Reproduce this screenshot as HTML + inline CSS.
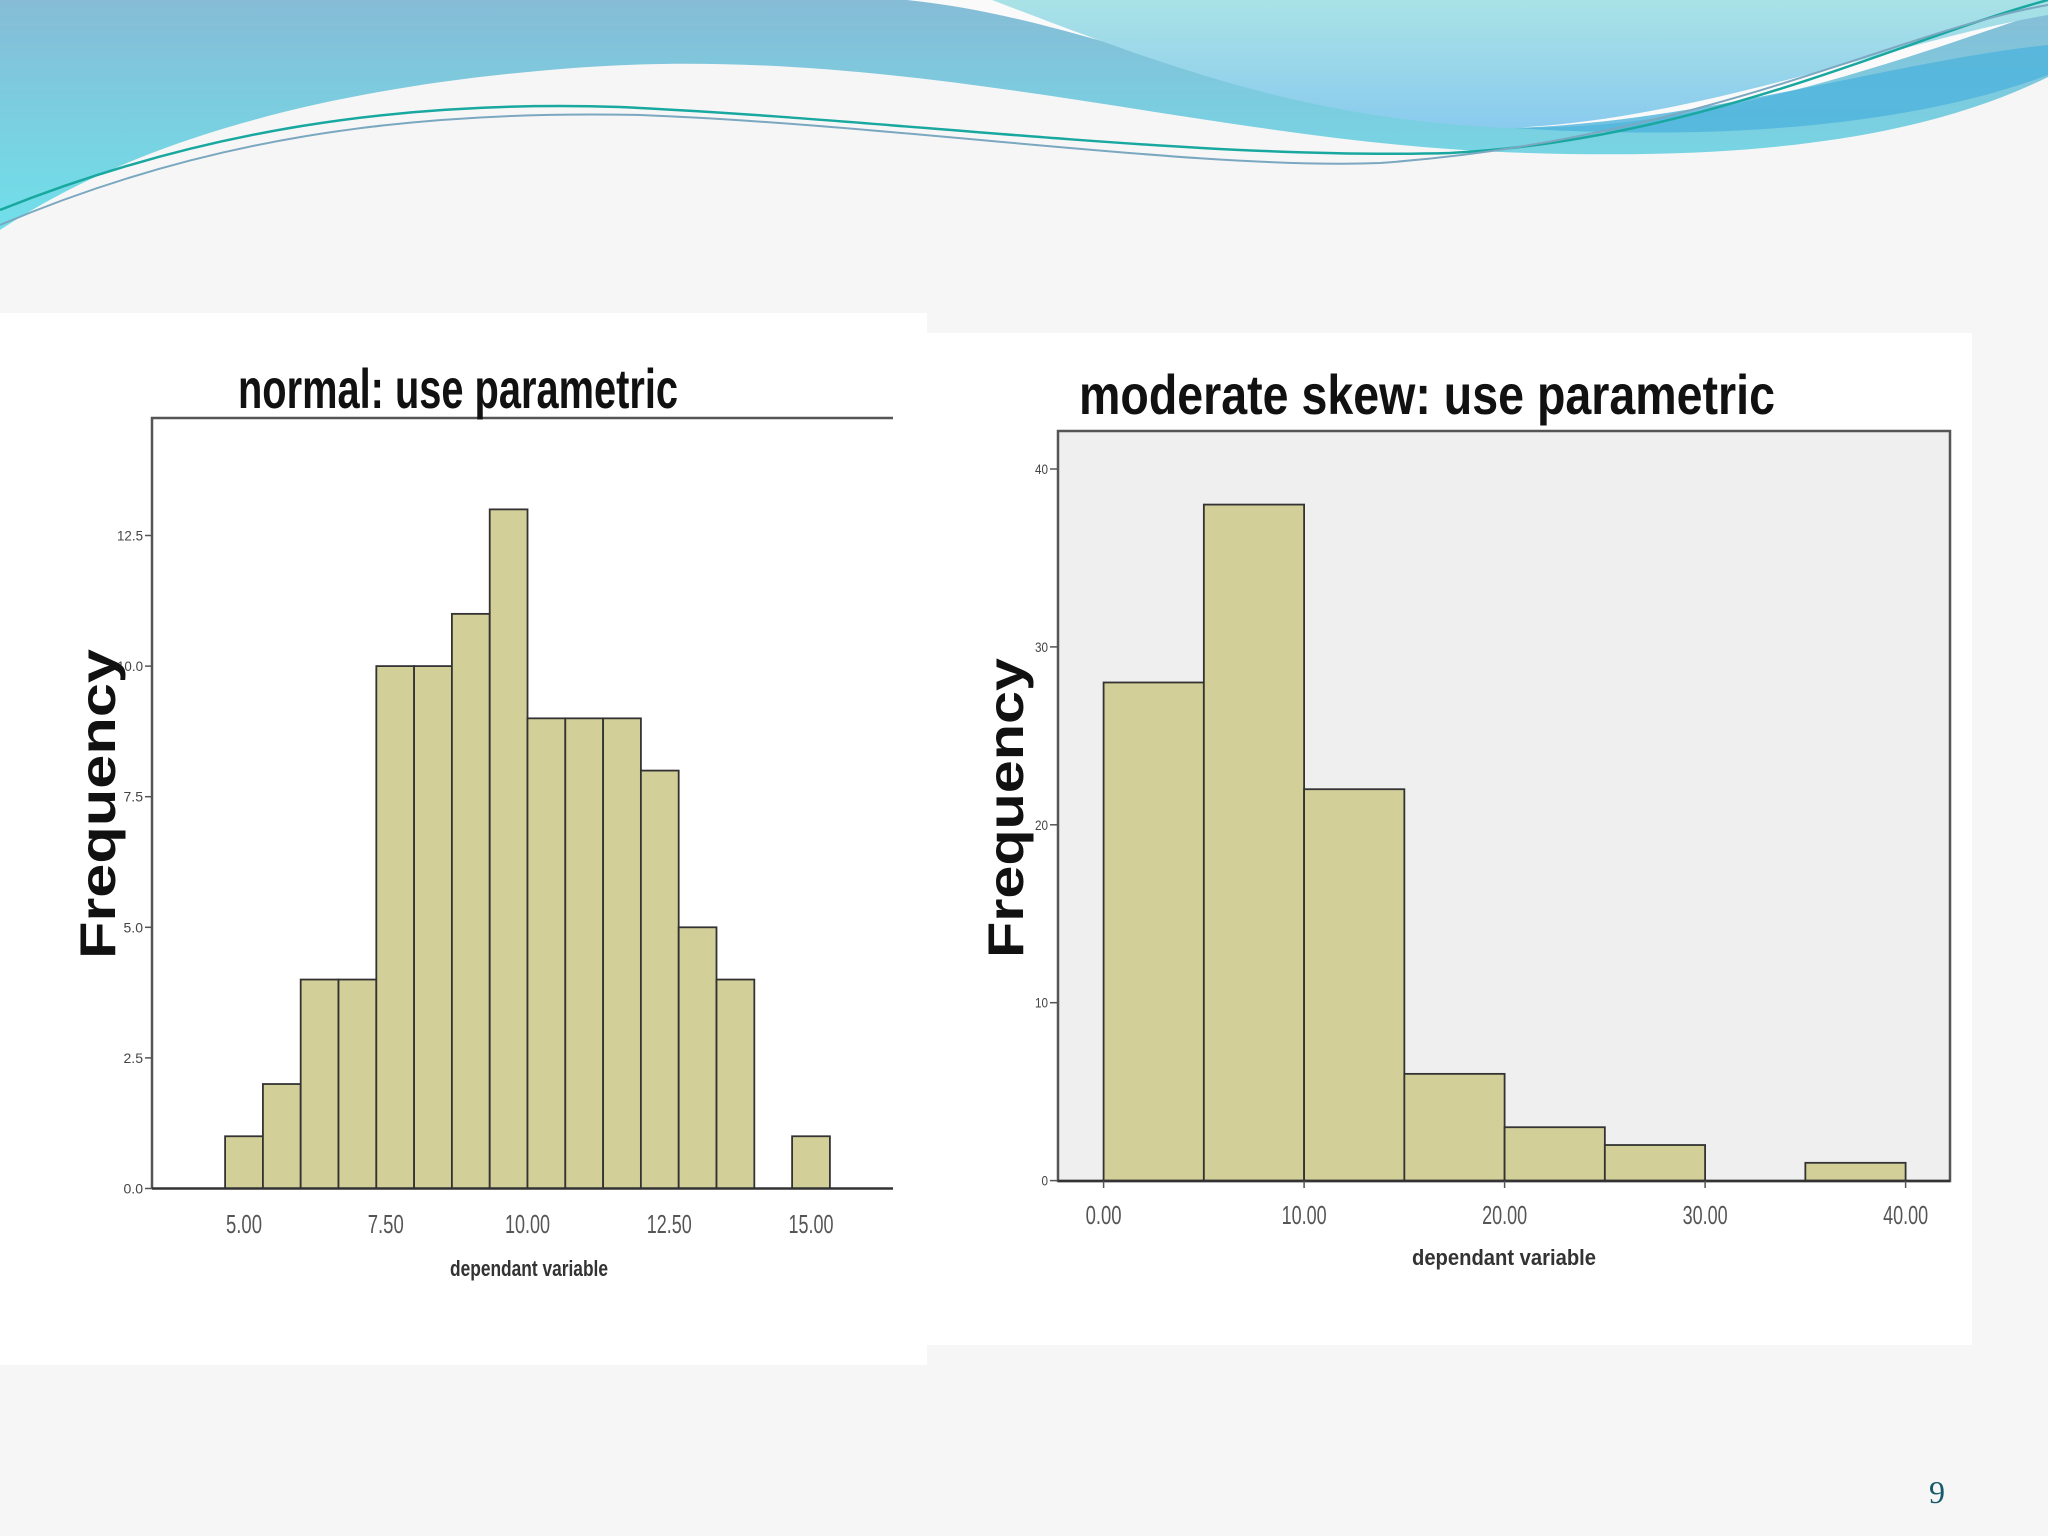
<!DOCTYPE html>
<html><head><meta charset="utf-8"><style>
html,body{margin:0;padding:0;}
body{width:2048px;height:1536px;overflow:hidden;background:#f6f6f6;font-family:"Liberation Sans",sans-serif;}
svg{display:block;}
</style></head><body>
<svg width="2048" height="1536" viewBox="0 0 2048 1536">
<defs>
<linearGradient id="bg1" x1="0" y1="0" x2="0" y2="1"><stop offset="0" stop-color="#86bcd6"/><stop offset="1" stop-color="#70e0ea"/></linearGradient>
<linearGradient id="bg2" x1="0" y1="0" x2="0" y2="1"><stop offset="0" stop-color="#a9e2e6"/><stop offset="1" stop-color="#8acbee"/></linearGradient>
</defs>
<g>
<path d="M0,0 L2048,0 L2048,77 C1900,150 1700,160 1501,152 C1200,140 900,40 561,69 C300,90 120,150 0,230 Z" fill="url(#bg1)"/>
<path d="M907,0 C1100,20 1250,110 1501,127 C1700,135 1900,60 2048,10 L2048,0 Z" fill="#fafafa"/>
<path d="M992,0 C1150,60 1300,120 1510,128 C1700,120 1900,40 2048,15 L2048,0 Z" fill="url(#bg2)"/>
<path d="M1515,128 C1700,122 1900,60 2048,45 L2048,75 C1900,130 1700,140 1515,128 Z" fill="#4fb3dc" opacity="0.8"/>
<path d="M0,210 C200,130 400,100 620,107 C900,120 1200,160 1450,153 C1700,140 1900,40 2048,0" fill="none" stroke="#18a8a0" stroke-width="2.5"/>
<path d="M0,225 C200,140 400,110 640,115 C900,125 1200,170 1380,163 C1700,140 1900,30 2048,5" fill="none" stroke="#7aa8c0" stroke-width="2"/>
</g>
<rect x="0" y="313" width="927" height="1052" fill="#ffffff"/>
<rect x="927" y="333" width="1045" height="1012" fill="#ffffff"/>
<g id="left"></g>
<g id="right"></g>
<text x="1937" y="1503" font-family="Liberation Serif,serif" font-size="32" fill="#175a6a" text-anchor="middle">9</text>
</svg>
<script>
const NS='http://www.w3.org/2000/svg';
// ---- left chart data ----
const leftBinCenters=[5.0,5.667,6.333,7.0,7.667,8.333,9.0,9.667,10.333,11.0,11.667,12.333,13.0,13.667,14.333,15.0];
const leftCounts=[1,2,4,4,10,10,11,13,9,9,9,8,5,4,0,1];
const leftYTicks=[0,2.5,5,7.5,10,12.5];
const leftYTickLabels=['0.0','2.5','5.0','7.5','10.0','12.5'];
const leftXTicks=[5,7.5,10,12.5,15];
const leftXTickLabels=['5.00','7.50','10.00','12.50','15.00'];
// ---- right chart data ----
const rightBinEdges=[0,5,10,15,20,25,30,35,40];
const rightCounts=[28,38,22,6,3,2,0,1];
const rightYTicks=[0,10,20,30,40];
const rightYTickLabels=['0','10','20','30','40'];
const rightXTicks=[0,10,20,30,40];
const rightXTickLabels=['0.00','10.00','20.00','30.00','40.00'];

function el(tag,attrs,parent){const e=document.createElementNS(NS,tag);for(const k in attrs)e.setAttribute(k,attrs[k]);parent.appendChild(e);return e;}
function txt(parent,x,y,s,size,opts){const t=el('text',Object.assign({x:x,y:y,'font-size':size,fill:'#333'},opts||{}),parent);t.textContent=s;return t;}

// left
(function(){
 const g=document.getElementById('left');
 const X=v=>244+(v-5)*56.7, Y=v=>1188.5-v*52.24;
 const binW=0.6667;
 el('path',{d:'M152,1188.5 L152,418 L893,418',fill:'none',stroke:'#555','stroke-width':2.5},g);
 leftCounts.forEach((c,i)=>{ if(c<=0)return;
  const x0=X(leftBinCenters[i]-binW/2),x1=X(leftBinCenters[i]+binW/2);
  const r=el('rect',{x:x0,y:Y(c),width:x1-x0,height:Y(0)-Y(c),fill:'#d3cf98',stroke:'#333','stroke-width':1.8},g);
  
  
 });
 el('line',{x1:152,y1:1188.5,x2:893,y2:1188.5,stroke:'#333','stroke-width':2.5},g);
 leftYTicks.forEach((v,i)=>{
  el('line',{x1:145,y1:Y(v),x2:152,y2:Y(v),stroke:'#555','stroke-width':1.5},g);
  const t=txt(g,143,Y(v)+5,leftYTickLabels[i],14,{'text-anchor':'end',fill:'#444',transform:'',textLength:leftYTickLabels[i].length*6.5,lengthAdjust:'spacingAndGlyphs'});
  
  
 });
 leftXTicks.forEach((v,i)=>{
  const t=txt(g,X(v),1233,leftXTickLabels[i],26,{'text-anchor':'middle',fill:'#555',textLength:leftXTickLabels[i].length*9,lengthAdjust:'spacingAndGlyphs'});
  
  
 });
 let t=txt(g,529,1276,'dependant variable',22,{'text-anchor':'middle','font-weight':'bold',fill:'#333',textLength:158,lengthAdjust:'spacingAndGlyphs'});
 
 
 t=txt(g,238,408,'normal: use parametric',56,{'font-weight':'bold',fill:'#111',textLength:440,lengthAdjust:'spacingAndGlyphs'});
 
 
 t=txt(g,0,0,'Frequency',50,{'font-weight':'bold',fill:'#111','text-anchor':'middle',transform:'translate(115,804) rotate(-90)',textLength:310,lengthAdjust:'spacingAndGlyphs'});
 
 
})();

// right
(function(){
 const g=document.getElementById('right');
 const X=v=>1103.6+v*20.05, Y=v=>1180.6-v*17.79;
 el('rect',{x:1058,y:431,width:892,height:750,fill:'#efefef',stroke:'#555','stroke-width':2.5},g);
 rightCounts.forEach((c,i)=>{ if(c<=0)return;
  const x0=X(rightBinEdges[i]),x1=X(rightBinEdges[i+1]);
  const r=el('rect',{x:x0,y:Y(c),width:x1-x0,height:Y(0)-Y(c),fill:'#d3cf98',stroke:'#333','stroke-width':1.8},g);
  
  
 });
 el('line',{x1:1058,y1:1181,x2:1950,y2:1181,stroke:'#333','stroke-width':2.5},g);
 rightYTicks.forEach((v,i)=>{
  el('line',{x1:1050,y1:Y(v),x2:1058,y2:Y(v),stroke:'#555','stroke-width':1.5},g);
  const t=txt(g,1048,Y(v)+5,rightYTickLabels[i],14,{'text-anchor':'end',fill:'#444',textLength:rightYTickLabels[i].length*6.5,lengthAdjust:'spacingAndGlyphs'});
  
  
 });
 rightXTicks.forEach((v,i)=>{
  el('line',{x1:X(v),y1:1181,x2:X(v),y2:1188,stroke:'#555','stroke-width':1.5},g);
  const t=txt(g,X(v),1224,rightXTickLabels[i],26,{'text-anchor':'middle',fill:'#555',textLength:rightXTickLabels[i].length*9,lengthAdjust:'spacingAndGlyphs'});
  
  
 });
 let t=txt(g,1504,1265,'dependant variable',22,{'text-anchor':'middle','font-weight':'bold',fill:'#333',textLength:184,lengthAdjust:'spacingAndGlyphs'});
 
 
 t=txt(g,1079,414,'moderate skew: use parametric',56,{'font-weight':'bold',fill:'#111',textLength:696,lengthAdjust:'spacingAndGlyphs'});
 
 
 t=txt(g,0,0,'Frequency',50,{'font-weight':'bold',fill:'#111','text-anchor':'middle',transform:'translate(1023,808) rotate(-90)',textLength:300,lengthAdjust:'spacingAndGlyphs'});
 
 
})();
</script>
</body></html>
